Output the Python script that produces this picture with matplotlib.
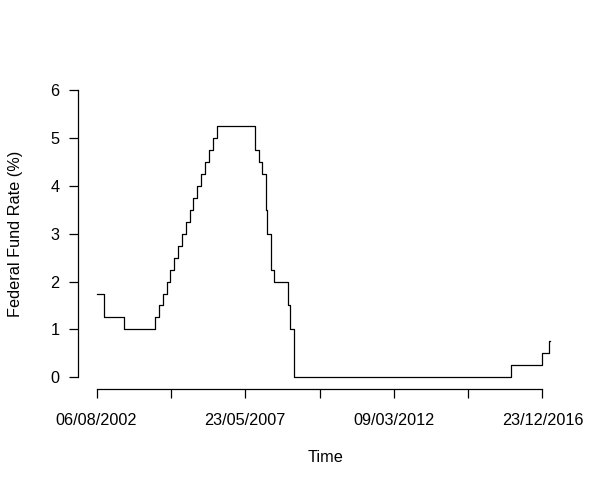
import matplotlib
matplotlib.use("Agg")
import matplotlib.pyplot as plt
import matplotlib.dates as mdates
import pandas as pd

# FOMC target rate changes (date, rate %) over the plotted period
change_dates = ["2002-08-06", "2002-11-06", "2003-06-25", "2004-06-30", "2004-08-10",
                "2004-09-21", "2004-11-10", "2004-12-14", "2005-02-02", "2005-03-22",
                "2005-05-03", "2005-06-30", "2005-08-09", "2005-09-20", "2005-11-01",
                "2005-12-13", "2006-01-31", "2006-03-28", "2006-05-10", "2006-06-29",
                "2007-09-18", "2007-10-31", "2007-12-11", "2008-01-22", "2008-01-30",
                "2008-03-18", "2008-04-30", "2008-10-08", "2008-10-29", "2008-12-16",
                "2015-12-16", "2016-12-14", "2017-03-15", "2017-03-16"]
rates = [1.75, 1.25, 1.00, 1.25, 1.50,
         1.75, 2.00, 2.25, 2.50, 2.75,
         3.00, 3.25, 3.50, 3.75, 4.00,
         4.25, 4.50, 4.75, 5.00, 5.25,
         4.75, 4.50, 4.25, 3.50, 3.00,
         2.25, 2.00, 1.50, 1.00, 0.00,
         0.25, 0.50, 0.75, 0.75]

tick_labels = ["06/08/2002", "23/05/2007", "09/03/2012", "23/12/2016"]

plt.rcParams['font.family'] = ['Liberation Sans', 'DejaVu Sans']
fs = 11.7

dates = pd.to_datetime(change_dates)
label_dates = pd.to_datetime(tick_labels, format="%d/%m/%Y")
# unlabelled ticks halfway between labelled ones
all_ticks = []
for i in range(len(label_dates)):
    all_ticks.append(label_dates[i])
    if i < len(label_dates) - 1:
        all_ticks.append(label_dates[i] + (label_dates[i + 1] - label_dates[i]) / 2)
all_labels = []
for t in all_ticks:
    all_labels.append(t.strftime("%d/%m/%Y") if t in list(label_dates) else "")

fig = plt.figure(figsize=(6.09, 4.87), dpi=100)
ax = fig.add_axes([0.1288, 0.2016, 0.8033, 0.6372])

ax.step(dates, rates, where='post', color='black', lw=0.9)

# R-style 4% padding around the data
xmin = mdates.date2num(dates[0])
xmax = mdates.date2num(dates[-1])
ext = (xmax - xmin) * 0.04
ax.set_xlim(xmin - ext, xmax + ext)
ax.set_ylim(-0.24, 6.24)

for s in ['top', 'right']:
    ax.spines[s].set_visible(False)
ax.spines['left'].set_bounds(0, 6)
ax.spines['bottom'].set_bounds(mdates.date2num(all_ticks[0]), mdates.date2num(all_ticks[-1]))
for s in ['left', 'bottom']:
    ax.spines[s].set_linewidth(0.9)

ax.set_yticks(range(0, 7))
ax.set_xticks([mdates.date2num(t) for t in all_ticks])
ax.set_xticklabels(all_labels)
ax.tick_params(axis='both', length=6.5, width=0.9, labelsize=fs, direction='out')
ax.tick_params(axis='y', pad=7.2)
ax.tick_params(axis='x', pad=11)

ax.set_xlabel("Time", fontsize=fs, labelpad=15.5)
ax.xaxis.label.set_x(0.5045)
ax.set_ylabel("Federal Fund Rate (%)", fontsize=fs, labelpad=20)

fig.savefig("out.png", dpi=100)
